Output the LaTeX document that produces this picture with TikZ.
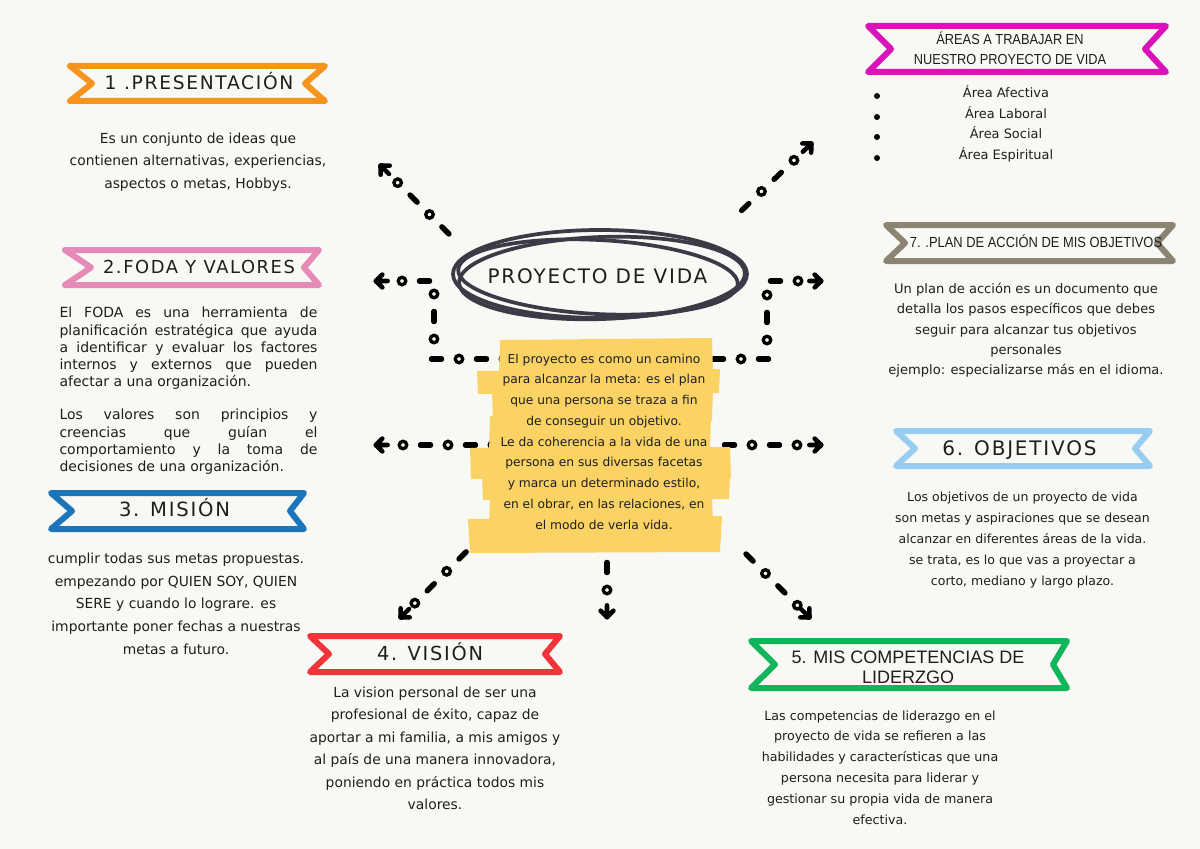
\documentclass[tikz,border=0pt]{standalone}
\usepackage{fontspec}
\setmainfont{DejaVu Sans}
\newfontfamily\titlefont[LetterSpace=9]{DejaVu Sans}
\newfontfamily\narrowfont[FakeStretch=0.88]{Liberation Sans}
\newfontfamily\plainsans{Liberation Sans}
\usetikzlibrary{decorations.markings}
\setlength{\parindent}{0pt}
\definecolor{bg}{RGB}{248,248,244}
\definecolor{cOrange}{RGB}{247,148,30}
\definecolor{cPink}{RGB}{230,138,184}
\definecolor{cBlue}{RGB}{27,117,187}
\definecolor{cRed}{RGB}{242,52,58}
\definecolor{cGreen}{RGB}{18,181,92}
\definecolor{cSky}{RGB}{150,205,240}
\definecolor{cTaupe}{RGB}{140,132,114}
\definecolor{cMagenta}{RGB}{218,18,186}
\definecolor{ink}{RGB}{60,58,70}
\definecolor{notecol}{RGB}{250,211,100}
\definecolor{txt}{RGB}{30,30,30}
\newcommand{\ribbon}[7]{% colour, left, right, top, bottom, notch left, notch right
  \draw[ribbonline, draw=#1] (#2,#4) -- (#3,#4) -- (#7,{(#4+#5)/2}) -- (#3,#5) -- (#2,#5) -- (#6,{(#4+#5)/2}) -- cycle;}
\newcommand{\dotdashmark}{%
  \ifodd\pgfkeysvalueof{/pgf/decoration/mark info/sequence number}\relax
    \draw[dashst] (-3.8pt,0pt) -- (3.8pt,0pt);%
  \else
    \draw[ringst] (0pt,0pt) circle (2.8pt);%
  \fi}
\tikzset{
  ribbonline/.style={line width=4.5pt, line join=round},
  ttl/.style={inner sep=0pt, anchor=base, text=txt},
  body/.style={inner sep=0pt, align=center, text=txt, execute at begin node=\strut, execute at end node=\strut},
  dashst/.style={line width=4pt, line cap=round, draw=black},
  ringst/.style={line width=2.5pt, draw=black},
  tipst/.style={line width=3.4pt, line cap=round, line join=round, draw=black},
  dotconn/.style={decorate, decoration={markings,
      mark=at position 0.5pt with {\draw[tipst] (9pt,0pt) -- (0pt,0pt) (5pt,4.8pt) -- (0pt,0pt) -- (5pt,-4.8pt);},
      mark=between positions #1 and 1 step 16.875pt with {\dotdashmark}}},
  scrib/.style={draw=ink, line width=2.8pt},
  patch/.style={fill=notecol},
  bullet/.style={circle, fill=black, inner sep=0pt, minimum size=4.5pt},
}
\begin{document}
\begin{tikzpicture}[x=0.75pt, y=-0.75pt]
\useasboundingbox (0,0) rectangle (1200,849);
\fill[bg] (0,0) rectangle (1200,849);

% ribbons
\ribbon{cOrange}{70}{325}{66}{101}{92}{305}
\ribbon{cPink}{65}{319}{250}{285}{91}{304}
\ribbon{cBlue}{51}{304}{493}{529}{72}{290}
\ribbon{cRed}{310}{560}{636}{672}{329}{545}
\ribbon{cGreen}{751}{1067}{641}{688}{775}{1053}
\ribbon{cSky}{896}{1150}{431}{466}{915}{1135}
\ribbon{cTaupe}{886}{1173}{225}{261}{905}{1157}
\ribbon{cMagenta}{868}{1166}{26}{72}{891}{1145}

% connector end points
\coordinate (ulTip) at (380,165); \coordinate (ulEnd) at (451,236);
\coordinate (urTip) at (812,143); \coordinate (urEnd) at (739,213);
\coordinate (luTip) at (375,281); \coordinate (luA) at (434,281); \coordinate (luB) at (434,359); \coordinate (luEnd) at (510,359);
\coordinate (ruTip) at (822,281); \coordinate (ruA) at (767,281); \coordinate (ruB) at (767,359); \coordinate (ruEnd) at (712,359);
\coordinate (lmTip) at (375,445); \coordinate (lmEnd) at (500,445);
\coordinate (rmTip) at (822,445); \coordinate (rmEnd) at (712,445);
\coordinate (dlTip) at (400,618); \coordinate (dlEnd) at (467,551);
\coordinate (dmTip) at (607,618); \coordinate (dmEnd) at (607,540);
\coordinate (drTip) at (810,618); \coordinate (drEnd) at (746,554);

\path[dotconn=18.75pt] (ulTip) -- (ulEnd);
\path[dotconn=18.75pt] (urTip) -- (urEnd);
\path[dotconn=20.25pt] (luTip) -- (luA) -- (luB) -- (luEnd);
\path[dotconn=18pt] (ruTip) -- (ruA) -- (ruB) -- (ruEnd);
\path[dotconn=21pt] (lmTip) -- (lmEnd);
\path[dotconn=18.75pt] (rmTip) -- (rmEnd);
\path[dotconn=15.75pt] (dlTip) -- (dlEnd);
\path[dotconn=21pt] (dmTip) -- (dmEnd);
\path[dotconn=13.5pt] (drTip) -- (drEnd);

% scribbled ellipse
\draw[scrib] (600,274) ellipse [x radius=147, y radius=44];
\draw[scrib, rotate around={-3:(598,277)}] (598,277) ellipse [x radius=140, y radius=37];
\draw[scrib, rotate around={2:(602,278)}] (602,278) ellipse [x radius=143, y radius=41];

% yellow note patches
\fill[patch] (500,340) -- (712,338) -- (713,374) -- (499,375) -- cycle;
\fill[patch] (477,371) -- (720,369) -- (719,393) -- (478,394) -- cycle;
\fill[patch] (492,389) -- (713,388) -- (712,421) -- (493,422) -- cycle;
\fill[patch] (490,416) -- (711,415) -- (710,452) -- (489,453) -- cycle;
\fill[patch] (470,448) -- (730,447) -- (731,478) -- (471,479) -- cycle;
\fill[patch] (482,476) -- (730,475) -- (729,499) -- (483,500) -- cycle;
\fill[patch] (490,496) -- (712,495) -- (713,524) -- (489,525) -- cycle;
\fill[patch] (468,519) -- (722,516) -- (720,552) -- (470,553) -- cycle;

% titles
\node[ttl, font=\titlefont\fontsize{14}{16}\selectfont] (presTitle) at (199,89.3) {1 .PRESENTACIÓN};
\node[ttl, font=\titlefont\fontsize{13.4}{16}\selectfont] (fodaTitle) at (199,273.5) {2.FODA Y VALORES};
\node[ttl, font=\titlefont\fontsize{14.7}{16}\selectfont] (misTitle) at (174.5,516.1) {3. MISIÓN};
\node[ttl, font=\titlefont\fontsize{14.5}{16}\selectfont] (visTitle) at (430,660) {4. VISIÓN};
\node[ttl, font=\titlefont\fontsize{15}{16}\selectfont] (objTitle) at (1019.5,455) {6. OBJETIVOS};
\node[ttl, font=\titlefont\fontsize{15}{16}\selectfont] (center) at (597.5,283.3) {PROYECTO DE VIDA};
\node[ttl, font=\narrowfont\fontsize{11}{13}\selectfont] (planTitle) at (1036,247.3) {7. .PLAN DE ACCIÓN DE MIS OBJETIVOS};
\node[body, font=\narrowfont\fontsize{10.9}{15}\selectfont] (areasTitle) at (1010,51.2) {ÁREAS A TRABAJAR EN\\NUESTRO PROYECTO DE VIDA};
\node[body, font=\plainsans\fontsize{13.5}{15}\selectfont] (compTitle) at (908,670.5) {5. MIS COMPETENCIAS DE\\LIDERZGO};

% body texts
\node[body, font=\fontsize{10.4}{16.9}\selectfont] (presText) at (198,163.8) {Es un conjunto de ideas que\\contienen alternativas, experiencias,\\aspectos o metas, Hobbys.};
\node[inner sep=0pt, text=txt, font=\fontsize{10.5}{12.94}\selectfont, text width=193.5pt, align=justify] (fodaText) at (188.5,391) {\tolerance=10000\hbadness=10000 El FODA es una herramienta de\linebreak planificación estratégica que ayuda\linebreak a identificar y evaluar los factores\linebreak internos y externos que pueden\linebreak afectar a una organización.\par\vspace{11.8pt}Los valores son principios y\linebreak creencias que guían el\linebreak comportamiento y la toma de\linebreak decisiones de una organización.};
\node[body, font=\fontsize{10.4}{17}\selectfont] (misText) at (176,607) {cumplir todas sus metas propuestas.\\empezando por QUIEN SOY, QUIEN\\SERE y cuando lo lograre. es\\importante poner fechas a nuestras\\metas a futuro.};
\node[body, font=\fontsize{10.4}{16.8}\selectfont] (visText) at (435,751.5) {La vision personal de ser una\\profesional de éxito, capaz de\\aportar a mi familia, a mis amigos y\\al país de una manera innovadora,\\poniendo en práctica todos mis\\valores.};
\node[body, font=\fontsize{9.5}{15.6}\selectfont] (compText) at (880,770.5) {Las competencias de liderazgo en el\\proyecto de vida se refieren a las\\habilidades y características que una\\persona necesita para liderar y\\gestionar su propia vida de manera\\efectiva.};
\node[body, font=\fontsize{9.4}{15.75}\selectfont] (objText) at (1022.5,541.5) {Los objetivos de un proyecto de vida\\son metas y aspiraciones que se desean\\alcanzar en diferentes áreas de la vida.\\se trata, es lo que vas a proyectar a\\corto, mediano y largo plazo.};
\node[body, font=\fontsize{9.8}{15.2}\selectfont] (planText) at (1026,332) {Un plan de acción es un documento que\\detalla los pasos específicos que debes\\seguir para alcanzar tus objetivos\\personales\\ejemplo: especializarse más en el idioma.};
\node[body, font=\fontsize{9.7}{15.5}\selectfont] (areasText) at (1006,125.5) {Área Afectiva\\Área Laboral\\Área Social\\Área Espiritual};
\node[bullet] (b1) at (877,96) {};
\node[bullet] (b2) at (877,117) {};
\node[bullet] (b3) at (877,137) {};
\node[bullet] (b4) at (877,158) {};
\node[body, font=\fontsize{9.2}{15.56}\selectfont] (noteText) at (604,444.5) {El proyecto es como un camino\\para alcanzar la meta: es el plan\\que una persona se traza a fin\\de conseguir un objetivo.\\Le da coherencia a la vida de una\\persona en sus diversas facetas\\y marca un determinado estilo,\\en el obrar, en las relaciones, en\\el modo de verla vida.};
\end{tikzpicture}
\end{document}
